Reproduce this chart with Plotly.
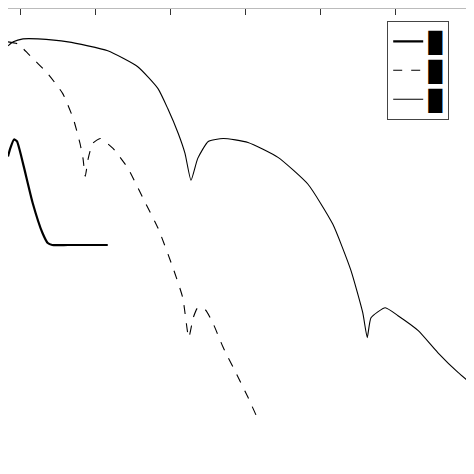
import plotly.graph_objects as go

# values (x in tick units, y in arbitrary level units)
thin_x = [-0.16, -0.09, 0.04, 0.24, 0.64, 1.17, 1.57, 1.84, 1.97, 2.11, 2.20, 2.28, 2.37, 2.51, 2.71, 3.04, 3.44, 3.84, 4.17, 4.41, 4.57, 4.63, 4.68, 4.87, 5.04, 5.31, 5.57, 5.84, 6.16]
thin_y = [-3.7, -3.3, -3.0, -3.0, -3.3, -4.2, -5.8, -8.0, -10.0, -12.5, -14.5, -17.2, -15.0, -13.3, -13.0, -13.4, -14.9, -17.6, -21.6, -26.2, -30.5, -33.0, -31.0, -30.0, -30.8, -32.3, -34.5, -36.5, -38.5]
dash_x = [-0.16, -0.03, 0.11, 0.37, 0.57, 0.71, 0.80, 0.84, 0.87, 0.91, 0.97, 1.07, 1.24, 1.44, 1.64, 1.84, 2.04, 2.17, 2.25, 2.31, 2.37, 2.47, 2.57, 2.71, 2.91, 3.04, 3.16]
dash_y = [-3.3, -3.5, -4.5, -6.5, -8.5, -11.0, -13.5, -15.0, -16.8, -15.0, -13.5, -13.0, -14.0, -16.0, -19.0, -22.0, -26.0, -29.0, -33.0, -31.0, -30.0, -30.2, -31.5, -34.0, -37.0, -39.0, -41.0]
thick_x = [-0.16, -0.13, -0.08, -0.04, 0.04, 0.17, 0.30, 0.37, 0.43, 0.64, 1.17]
thick_y = [-14.8, -14.0, -13.1, -13.3, -15.5, -19.5, -22.5, -23.5, -23.7, -23.7, -23.7]

tick_vals = [0, 1, 2, 3, 4, 5, 6]

fig = go.Figure()
fig.add_trace(go.Scatter(x=thick_x, y=thick_y, mode='lines', name='█', line=dict(color='black', width=2.2, shape='spline', smoothing=0.5)))
fig.add_trace(go.Scatter(x=dash_x, y=dash_y, mode='lines', name='█', line=dict(color='black', width=1.1, dash='dash', shape='spline', smoothing=0.5)))
fig.add_trace(go.Scatter(x=thin_x, y=thin_y, mode='lines', name='█', line=dict(color='black', width=1.1, shape='spline', smoothing=0.5)))

fig.update_layout(
    width=474, height=474, margin=dict(l=0, r=0, t=1, b=1, autoexpand=False),
    plot_bgcolor='white', paper_bgcolor='white',
    xaxis=dict(range=[-0.16, 6.16], showgrid=False, zeroline=False, showticklabels=False, ticks='inside',
               ticklen=6, tickcolor='#333', tickvals=tick_vals, showline=True, linecolor='#bbb',
               mirror='ticks', automargin=False),
    yaxis=dict(range=[-47.4, 0], showgrid=False, zeroline=False, showticklabels=False, showline=False,
               automargin=False),
    legend=dict(x=0.80, y=0.975, xanchor='left', yanchor='top', bordercolor='#444', borderwidth=1,
                bgcolor='white', font=dict(size=20, color='black'), tracegroupgap=0),
    showlegend=True,
)
fig.write_html("out.html")
